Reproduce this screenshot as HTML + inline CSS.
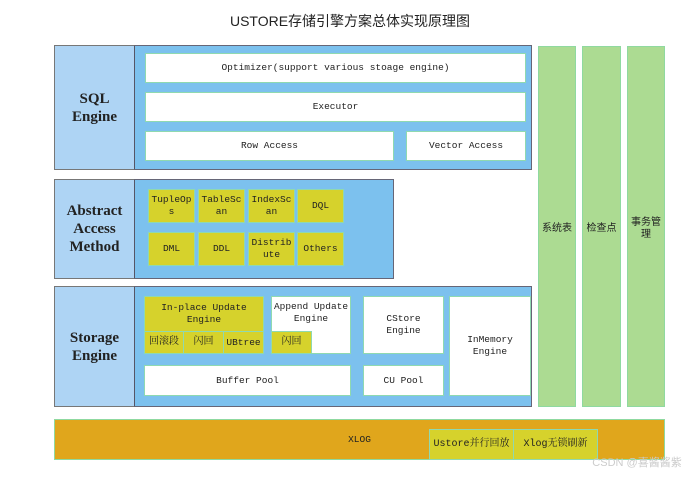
<!DOCTYPE html>
<html><head><meta charset="utf-8"><style>
body{margin:0;width:689px;height:477px;background:#fff;position:relative;overflow:hidden;font-family:"Liberation Mono","Noto Serif CJK SC","Noto Sans CJK SC",monospace;}
div{position:absolute;box-sizing:border-box;}
.c{display:flex;align-items:center;justify-content:center;text-align:center;line-height:12px;font-size:9.5px;color:#222;}
.lab{background:#aed4f4;border:1px solid #777;border-right:1.5px solid #556;font-family:"Liberation Serif","Noto Serif CJK SC",serif;font-weight:bold;font-size:15px;line-height:18px;color:#222;}
.blue{background:#7cc1ee;border:1px solid #667;}
.w{background:#fff;border:1.5px solid #8fd9b0;}
.y{background:#d6d22c;border:1px solid #8fd9b0;}
.g{background:#acdb92;border:1px solid #8fd9a0;font-family:"Noto Sans CJK SC",sans-serif;font-size:10px;}
</style></head><body>
<div class="c" style="left:200px;top:8px;width:300px;height:26px;font-family:'Liberation Sans','Noto Sans CJK SC',sans-serif;font-size:14px;color:#222;">USTORE存储引擎方案总体实现原理图</div>

<!-- SQL Engine -->
<div class="blue" style="left:54px;top:45px;width:478px;height:125px;"></div>
<div class="lab c" style="left:54px;top:45px;width:81px;height:125px;">SQL<br>Engine</div>
<div class="w c" style="left:145px;top:53px;width:381px;height:30px;">Optimizer(support various stoage engine)</div>
<div class="w c" style="left:145px;top:92px;width:381px;height:30px;">Executor</div>
<div class="w c" style="left:145px;top:131px;width:249px;height:30px;">Row Access</div>
<div class="w c" style="left:406px;top:131px;width:120px;height:30px;">Vector Access</div>

<!-- Abstract -->
<div class="blue" style="left:54px;top:179px;width:340px;height:100px;"></div>
<div class="lab c" style="left:54px;top:179px;width:81px;height:100px;">Abstract<br>Access<br>Method</div>
<div class="y c" style="left:148px;top:189px;width:47px;height:34px;">TupleOp<br>s</div>
<div class="y c" style="left:198px;top:189px;width:47px;height:34px;">TableSc<br>an</div>
<div class="y c" style="left:248px;top:189px;width:47px;height:34px;">IndexSc<br>an</div>
<div class="y c" style="left:297px;top:189px;width:47px;height:34px;">DQL</div>
<div class="y c" style="left:148px;top:232px;width:47px;height:34px;">DML</div>
<div class="y c" style="left:198px;top:232px;width:47px;height:34px;">DDL</div>
<div class="y c" style="left:248px;top:232px;width:47px;height:34px;">Distrib<br>ute</div>
<div class="y c" style="left:297px;top:232px;width:47px;height:34px;">Others</div>

<!-- Storage -->
<div class="blue" style="left:54px;top:286px;width:478px;height:121px;"></div>
<div class="lab c" style="left:54px;top:286px;width:81px;height:121px;">Storage<br>Engine</div>
<div class="y c" style="left:144px;top:296px;width:120px;height:36px;">In-place Update<br>Engine</div>
<div class="y c" style="left:144px;top:331px;width:40px;height:23px;font-size:10px;">回滚段</div>
<div class="y c" style="left:183px;top:331px;width:41px;height:23px;font-size:10px;">闪回</div>
<div class="y c" style="left:223px;top:331px;width:41px;height:23px;">UBtree</div>
<div class="w c" style="left:271px;top:296px;width:80px;height:58px;align-items:flex-start;padding-top:4px;">Append Update<br>Engine</div>
<div class="y c" style="left:271px;top:331px;width:41px;height:23px;font-size:10px;">闪回</div>
<div class="w c" style="left:363px;top:296px;width:81px;height:58px;">CStore<br>Engine</div>
<div class="w c" style="left:449px;top:296px;width:82px;height:100px;">InMemory<br>Engine</div>
<div class="w c" style="left:144px;top:365px;width:207px;height:31px;">Buffer Pool</div>
<div class="w c" style="left:363px;top:365px;width:81px;height:31px;">CU Pool</div>

<!-- Right columns -->
<div class="g c" style="left:538px;top:46px;width:38px;height:361px;">系统表</div>
<div class="g c" style="left:582px;top:46px;width:39px;height:361px;">检查点</div>
<div class="g c" style="left:627px;top:46px;width:38px;height:361px;">事务管<br>理</div>

<!-- XLOG -->
<div class="c" style="left:54px;top:419px;width:611px;height:41px;background:#e0a61c;border:1px solid #8fd9a0;">XLOG</div>
<div class="y c" style="left:429px;top:429px;width:85px;height:31px;font-size:10px;">Ustore并行回放</div>
<div class="y c" style="left:513px;top:429px;width:85px;height:31px;font-size:10px;">Xlog无锁刷新</div>
<div class="c" style="left:585px;top:455px;width:104px;height:16px;font-family:'Liberation Sans','Noto Sans CJK SC',sans-serif;font-size:11px;color:#ccc;">CSDN @喜酱酱紫</div>
</body></html>
